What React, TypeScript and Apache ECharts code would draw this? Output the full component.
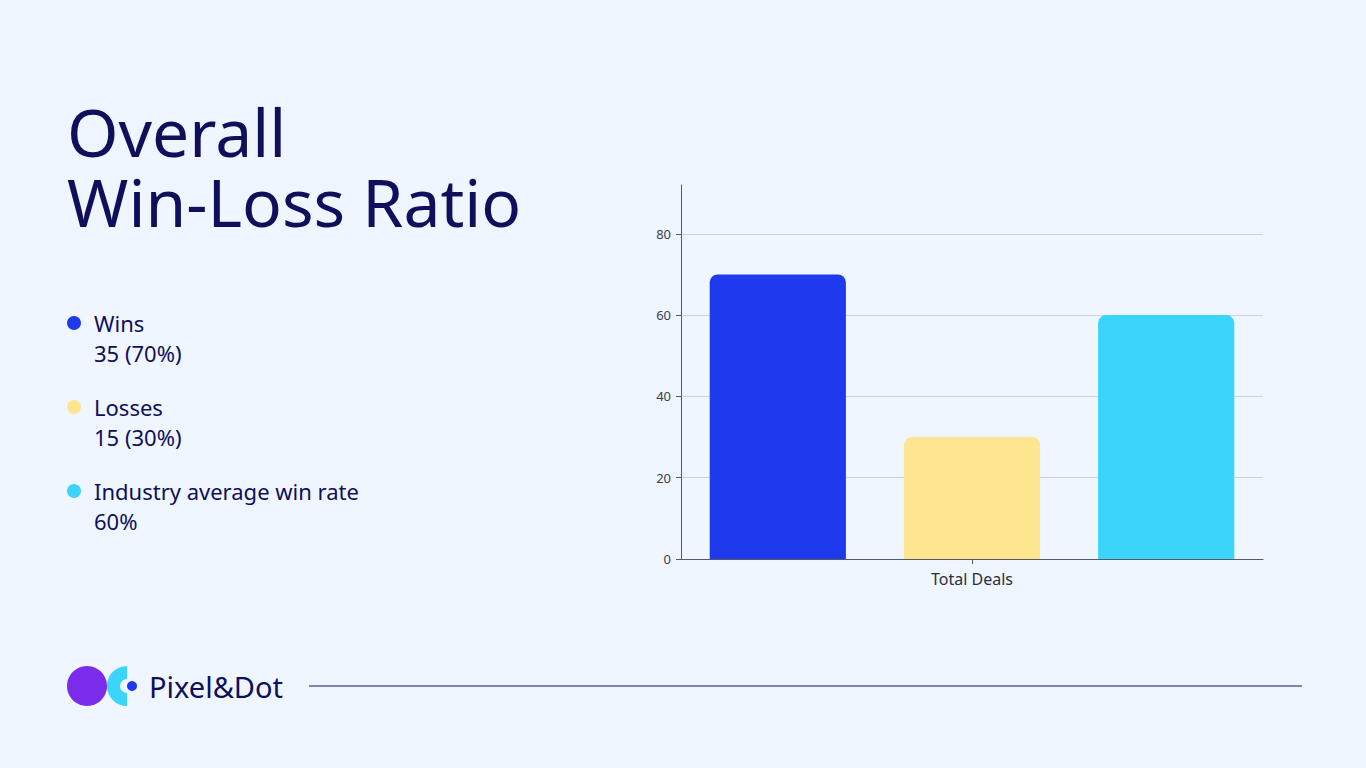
import React, { useEffect, useRef } from 'react'
import * as echarts from 'echarts'

// 数据
const categories = ['Total Deals']
const seriesNames = ['Wins', 'Losses', 'Industry average win rate']
const seriesValues = [70, 30, 60]
const seriesColors = ['#1f3aed', '#fde68f', '#3bd5fb']
const legendValues = ['35 (70%)', '15 (30%)', '60%']
const yTicks = [0, 20, 40, 60, 80]
const yMax = 92

const navy = '#0f0f5c'
const font = '"Noto Sans", sans-serif'

const App: React.FC = () => {
  const chartRef = useRef<HTMLDivElement>(null)

  useEffect(() => {
    if (!chartRef.current) return
    document.body.style.margin = '0'
    const chart = echarts.init(chartRef.current, undefined, { renderer: 'svg' })

    // 左侧图例
    const legendItems: any[] = []
    seriesNames.forEach((name, i) => {
      const cy = 323 + i * 84
      legendItems.push(
        { type: 'circle', shape: { cx: 74, cy, r: 7 }, style: { fill: seriesColors[i] } },
        {
          type: 'text', x: 94, y: cy,
          style: { text: name, fill: navy, font: `22px ${font}`, verticalAlign: 'middle', lineHeight: 24 },
        },
        {
          type: 'text', x: 94, y: cy + 30,
          style: { text: legendValues[i], fill: navy, font: `22px ${font}`, verticalAlign: 'middle', lineHeight: 24 },
        },
      )
    })

    const option = {
      animation: false,
      backgroundColor: '#eff6ff',
      textStyle: { fontFamily: font },
      grid: { left: 681, right: 103, top: 185, bottom: 209 },
      xAxis: {
        type: 'category',
        data: categories,
        axisLine: { lineStyle: { color: '#555a66' } },
        axisTick: { show: true, alignWithLabel: true, lineStyle: { color: '#555a66' } },
        axisLabel: { color: '#2b2f3a', fontSize: 16, margin: 12 },
      },
      yAxis: {
        type: 'value',
        min: 0,
        max: yMax,
        interval: 20,
        axisLine: { show: true, lineStyle: { color: '#555a66' } },
        axisTick: { show: true, customValues: yTicks, lineStyle: { color: '#555a66' } },
        axisLabel: { color: '#3a3e4a', fontSize: 13, customValues: yTicks, margin: 10 },
        splitLine: { show: true, lineStyle: { color: '#cdd3de' } },
      },
      series: seriesNames.map((name, i) => ({
        name,
        type: 'bar',
        data: [seriesValues[i]],
        barWidth: '23.4%',
        barGap: '42.6%',
        itemStyle: { color: seriesColors[i], borderRadius: [8, 8, 0, 0] },
      })),
      graphic: [
        // 标题（两行）
        {
          type: 'text', x: 67, y: 166,
          style: {
            text: 'Overall\nWin-Loss Ratio', fill: navy, font: `66px ${font}`,
            verticalAlign: 'middle', lineHeight: 70,
          },
        },
        ...legendItems,
        // 标志
        { type: 'circle', shape: { cx: 87, cy: 686, r: 20 }, style: { fill: '#7b2bea' } },
        {
          type: 'sector',
          shape: { cx: 127, cy: 686, r: 20, r0: 7, startAngle: Math.PI / 2, endAngle: (3 * Math.PI) / 2, clockwise: true },
          style: { fill: '#3bd5fb' },
        },
        { type: 'circle', shape: { cx: 132, cy: 686, r: 5 }, style: { fill: '#1f3aed' } },
        {
          type: 'text', x: 149, y: 686,
          style: { text: 'Pixel&Dot', fill: navy, font: `29px ${font}`, verticalAlign: 'middle' },
        },
        {
          type: 'line',
          shape: { x1: 309, y1: 686, x2: 1302, y2: 686 },
          style: { stroke: '#5b5e96', lineWidth: 1.5 },
        },
      ],
    }

    chart.setOption(option)
    return () => chart.dispose()
  }, [])

  return <div ref={chartRef} style={{ position: 'fixed', left: 0, top: 0, width: 1366, height: 768 }} />
}

export default App
